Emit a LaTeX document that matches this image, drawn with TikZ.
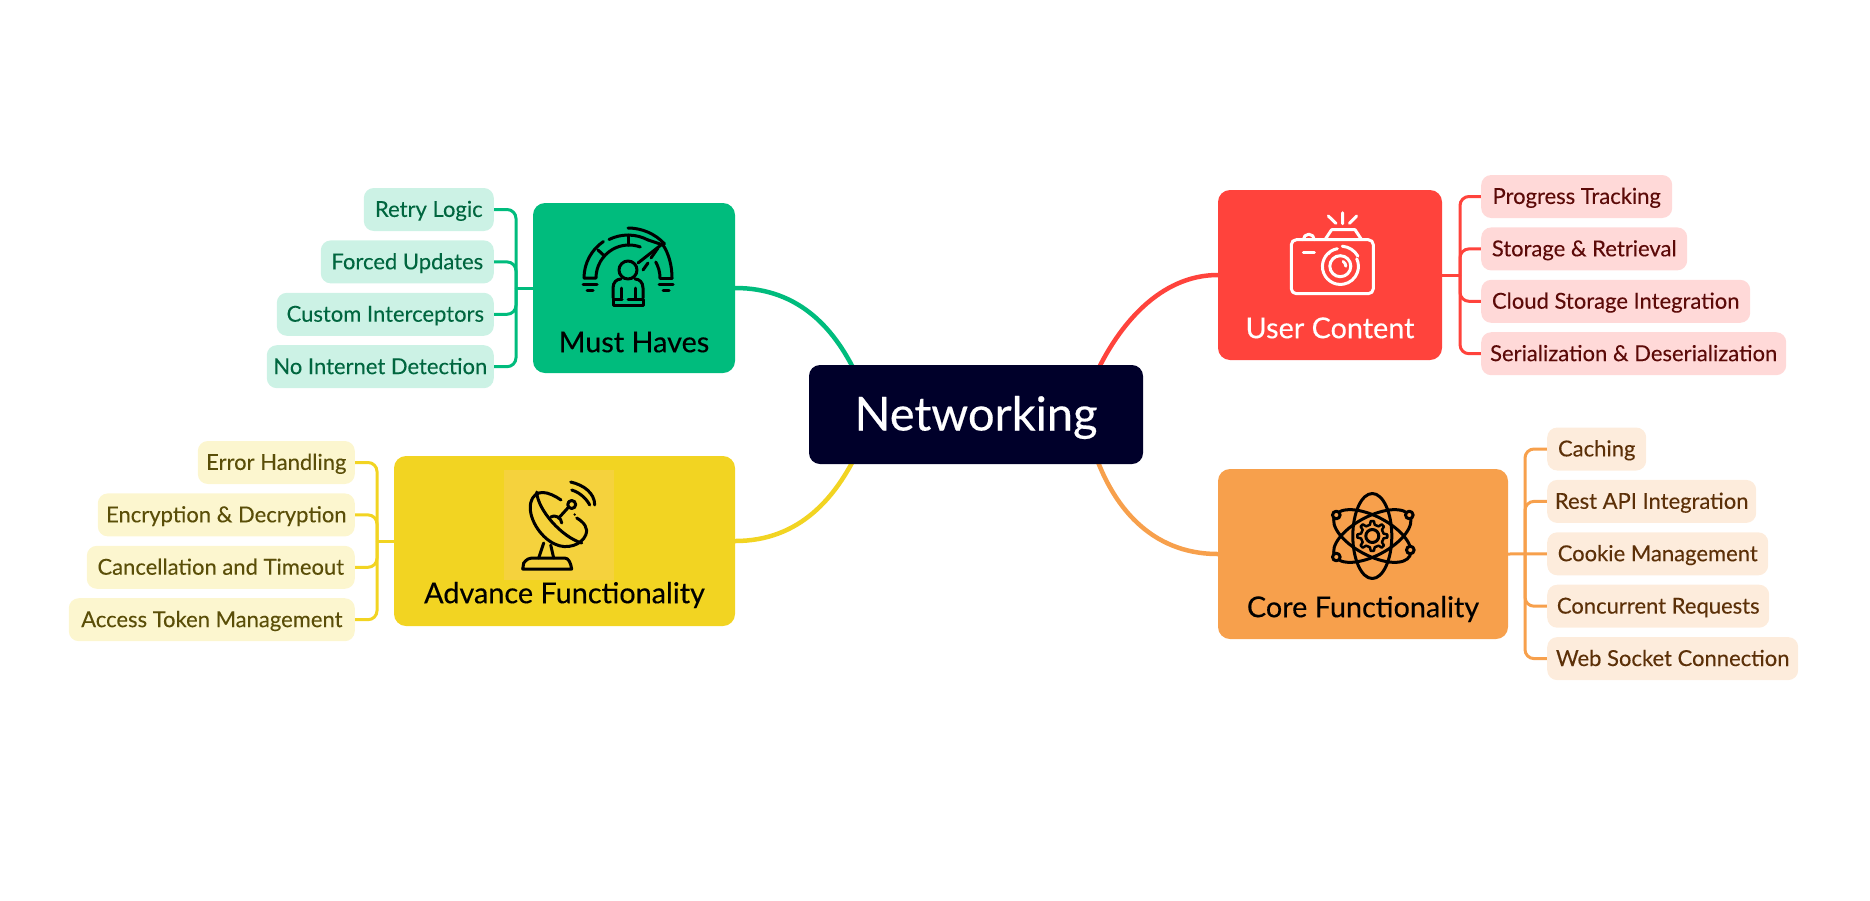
\documentclass[tikz,border=0pt]{standalone}
\usepackage{fontspec}
\setmainfont{Lato}
\newfontfamily\heavyfont[FakeBold=0.35]{Lato}
\newfontfamily\midfont[FakeBold=0.15]{Lato}
\usetikzlibrary{positioning,backgrounds}
\definecolor{hubfill}{HTML}{00002A}
\definecolor{mustfill}{HTML}{00BC7D}
\definecolor{mustlight}{HTML}{CCF2E5}
\definecolor{mustdark}{HTML}{00663F}
\definecolor{userfill}{HTML}{FF433C}
\definecolor{userlight}{HTML}{FFD9D8}
\definecolor{userdark}{HTML}{5C0A08}
\definecolor{corefill}{HTML}{F7A04C}
\definecolor{corelight}{HTML}{FDECDC}
\definecolor{coredark}{HTML}{5C3008}
\definecolor{advfill}{HTML}{F2D422}
\definecolor{advlight}{HTML}{FCF6CF}
\definecolor{advdark}{HTML}{5A4E08}
\definecolor{advsquare}{HTML}{F5D23D}

\begin{document}
\begin{tikzpicture}[x=1pt,y=-1pt,
head/.style={rounded corners=12pt,minimum height=170pt,inner sep=0pt},
headtext/.style={font=\heavyfont\fontsize{28.8}{34}\selectfont,anchor=base},
leaf/.style={rounded corners=10pt,minimum height=43pt,inner sep=0pt,text height=17.4pt,text depth=2.6pt,font=\midfont\fontsize{22}{26}\selectfont},
mustleaf/.style={leaf,fill=mustlight,text=mustdark},
userleaf/.style={leaf,fill=userlight,text=userdark},
coreleaf/.style={leaf,fill=corelight,text=coredark},
advleaf/.style={leaf,fill=advlight,text=advdark},
trunk/.style={line width=4.5pt},
twig/.style={line width=3pt,rounded corners=9pt},
iconline/.style={line width=3pt,line cap=round,line join=round}]
\useasboundingbox (0,0) rectangle (1870,900);

\node (hub) [fill=hubfill,rounded corners=11pt,minimum width=334pt,minimum height=99pt,inner sep=0pt,
    text=white,text height=36pt,text depth=4pt,font=\heavyfont\fontsize{47}{56}\selectfont] at (976,414.5) {Networking};

\node (must) [head,fill=mustfill,minimum width=202pt,
    label={[headtext,yshift=21pt]south:Must Haves}] at (634,288) {};
\node (user) [head,fill=userfill,minimum width=224pt,
    label={[headtext,text=white,yshift=22pt]south:User Content}] at (1330,275) {};
\node (adv) [head,fill=advfill,minimum width=341pt,
    label={[headtext,yshift=23pt]south:Advance Functionality}] at (564.5,541) {};
\node (core) [head,fill=corefill,minimum width=290pt,
    label={[headtext,yshift=22pt]south:Core Functionality}] at (1363,554) {};

\node (retry) [mustleaf,minimum width=130pt,anchor=east] at (494,209.5) {Retry Logic};
\node (forced) [mustleaf,minimum width=173pt,below=9pt of retry.south east,anchor=north east] {Forced Updates};
\node (custom) [mustleaf,minimum width=217pt,below=9pt of forced.south east,anchor=north east] {Custom Interceptors};
\node (nonet) [mustleaf,minimum width=227pt,below=9pt of custom.south east,anchor=north east] {No Internet Detection};

\node (progress) [userleaf,minimum width=191pt,anchor=west] at (1481,196.5) {Progress Tracking};
\node (storage) [userleaf,minimum width=206pt,below=9pt of progress.south west,anchor=north west] {Storage \& Retrieval};
\node (cloud) [userleaf,minimum width=269pt,below=9pt of storage.south west,anchor=north west] {Cloud Storage Integration};
\node (serial) [userleaf,minimum width=305pt,below=9pt of cloud.south west,anchor=north west] {Serialization \& Deserialization};

\node (caching) [coreleaf,minimum width=99pt,anchor=west] at (1547,449) {Caching};
\node (rest) [coreleaf,minimum width=209pt,below=9pt of caching.south west,anchor=north west] {Rest API Integration};
\node (cookie) [coreleaf,minimum width=221pt,below=9pt of rest.south west,anchor=north west] {Cookie Management};
\node (concurrent) [coreleaf,minimum width=222pt,below=9pt of cookie.south west,anchor=north west] {Concurrent Requests};
\node (socket) [coreleaf,minimum width=251pt,below=9pt of concurrent.south west,anchor=north west] {Web Socket Connection};

\node (error) [advleaf,minimum width=157pt,anchor=east] at (355,462.5) {Error Handling};
\node (crypt) [advleaf,minimum width=257pt,below=9pt of error.south east,anchor=north east] {Encryption \& Decryption};
\node (cancel) [advleaf,minimum width=268pt,below=9pt of crypt.south east,anchor=north east] {Cancellation and Timeout};
\node (token) [advleaf,minimum width=286pt,below=9pt of cancel.south east,anchor=north east] {Access Token Management};

\coordinate (mustbus) at (516,288);
\coordinate (userbus) at (1460,275);
\coordinate (corebus) at (1525,554);
\coordinate (advbus) at (377,541);
\coordinate (hubnw) at (858,378);
\coordinate (hubne) at (1094,378);
\coordinate (hubse) at (1094,451);
\coordinate (hubsw) at (858,451);

\begin{scope}[on background layer]
\draw[trunk,mustfill] (must.east) .. controls (800,288) and (836,330) .. (hubnw);
\draw[trunk,userfill] (user.west) .. controls (1160,275) and (1118,325) .. (hubne);
\draw[trunk,corefill] (core.west) .. controls (1150,554) and (1112,505) .. (hubse);
\draw[trunk,advfill] (adv.east) .. controls (800,541) and (836,497) .. (hubsw);
\draw[twig,mustfill] (retry.east) -| (mustbus);
\draw[twig,mustfill] (forced.east) -| (mustbus);
\draw[twig,mustfill] (custom.east) -| (mustbus);
\draw[twig,mustfill] (nonet.east) -| (mustbus);
\draw[twig,mustfill] (mustbus) -- (must.west);
\draw[twig,userfill] (progress.west) -| (userbus);
\draw[twig,userfill] (storage.west) -| (userbus);
\draw[twig,userfill] (cloud.west) -| (userbus);
\draw[twig,userfill] (serial.west) -| (userbus);
\draw[twig,userfill] (userbus) -- (user.east);
\draw[twig,corefill] (caching.west) -| (corebus);
\draw[twig,corefill] (rest.west) -| (corebus);
\draw[twig,corefill] (concurrent.west) -| (corebus);
\draw[twig,corefill] (socket.west) -| (corebus);
\draw[twig,corefill] (cookie.west) -- (core.east);
\draw[twig,advfill] (error.east) -| (advbus);
\draw[twig,advfill] (crypt.east) -| (advbus);
\draw[twig,advfill] (cancel.east) -| (advbus);
\draw[twig,advfill] (token.east) -| (advbus);
\draw[twig,advfill] (advbus) -- (adv.west);
\end{scope}

\begin{scope}[shift={(628,278)},yscale=-1,iconline]
\draw (-44,0) arc[start angle=180,end angle=124,radius=44];
\draw (-19,38.5) arc[start angle=116.3,end angle=62,radius=43];
\draw (0,50) arc[start angle=90,end angle=43,radius=50];
\draw (35,33) -- (20.2,38);
\draw (44,0) .. controls (44,12) and (41,24) .. (35,33);
\draw (44,0) -- (32,0);
\draw (-44,0) -- (-32,0) arc[start angle=180,end angle=70,radius=33];
\draw (0,43) -- (0,33);
\draw (-30,28) -- (-23.5,22);
\draw (32,0) arc[start angle=0,end angle=30,radius=32];
\draw (10,15) -- (33,33);
\draw (15,8) -- (20,15) (23,20) -- (30,30);
\draw (-45,-6) -- (-31,-6) (-41,-12) -- (-35,-12);
\draw (31,-6) -- (45,-6) (35,-12) -- (41,-12);
\draw (0,8) circle[radius=9];
\draw (-15,-20) -- (-15,-10) .. controls (-15,-4) and (-11,-1) .. (-7,-1) (7,-1) .. controls (11,-1) and (15,-4) .. (15,-10) -- (15,-20);
\draw (-6.5,-10) -- (-6.5,-20) (7.5,-10) -- (7.5,-20);
\draw (-6,-21) -- (-15,-21) -- (-15,-27) -- (15,-27) -- (15,-21) -- (0,-21);
\end{scope}

\begin{scope}[shift={(1332.3,266.7)},yscale=-1,iconline,white]
\draw[rounded corners=5pt] (-41,-27) rectangle (41,27);
\draw (-29,27) arc[start angle=180,end angle=0,radius=5.5];
\draw (-7,27.5) -- (-0.7,37) -- (22.7,37) -- (29,27.5);
\draw (10.3,54) -- (10.3,43) (-4,50.7) -- (3.7,43.3) (24.3,50.7) -- (17,43.3);
\draw (-29,14) -- (-18,14);
\fill (-3.3,13.3) circle[radius=1.6];
\draw (8,0.5) circle[radius=10.5];
\draw (5,18) arc[start angle=100,end angle=385,radius=18];
\draw (10,20.5) arc[start angle=85,end angle=30,radius=20];
\draw (13.5,0.5) arc[start angle=0,end angle=60,radius=5.5];
\end{scope}

\fill[advsquare] (504,470) rectangle (614,580);
\begin{scope}[shift={(551.7,525)},yscale=-1,iconline]
\draw (9.3,25) .. controls (-2,33) and (-17,38) .. (-21,22) .. controls (-24,8) and (-12,-12) .. (3,-19) .. controls (15,-25) and (30,-20) .. (34,-10) .. controls (37,-3) and (32,3) .. (25,7);
\draw (-15,33) .. controls (-14,15) and (10,-12) .. (30,-18);
\draw (-1,8) .. controls (3,11) and (10,7) .. (10,2);
\draw (7,7) -- (17,18);
\draw (20,20.5) circle[radius=4];
\fill (23,10.5) circle[radius=1.3];
\draw (20,35) .. controls (30,32) and (36,24) .. (38,20);
\draw (19,43) .. controls (32,40) and (43,32) .. (43,20);
\draw (-8,-18) -- (-13,-33) (-1,-20) -- (2,-33);
\draw (-29,-44) -- (-28,-38) .. controls (-25,-34) and (-22,-33) .. (-20,-33) -- (13,-33) .. controls (17,-33) and (19,-38) .. (20,-44) -- cycle;
\end{scope}

\begin{scope}[shift={(1372.3,536)},yscale=-1,iconline]
\draw (0,0) ellipse[x radius=19.5,y radius=42.5];
\draw[rotate=62] (0,0) ellipse[x radius=19.5,y radius=42.5];
\draw[rotate=-62] (0,0) ellipse[x radius=19.5,y radius=42.5];
\draw[fill=corefill] (-36,21) circle[radius=3.8];
\draw[fill=corefill] (37,21) circle[radius=3.8];
\draw[fill=corefill] (-36,-21) circle[radius=3.8];
\draw[fill=corefill] (38,-14) circle[radius=3.8];
\draw[fill=corefill] (0,0) circle[radius=6.5];
\draw[line width=2.5pt] (0:15) \foreach \a in {0,45,...,315} {-- (\a+6:15) -- (\a+12:11.5) -- (\a+33:11.5) -- (\a+39:15)} -- cycle;
\end{scope}
\end{tikzpicture}
\end{document}
